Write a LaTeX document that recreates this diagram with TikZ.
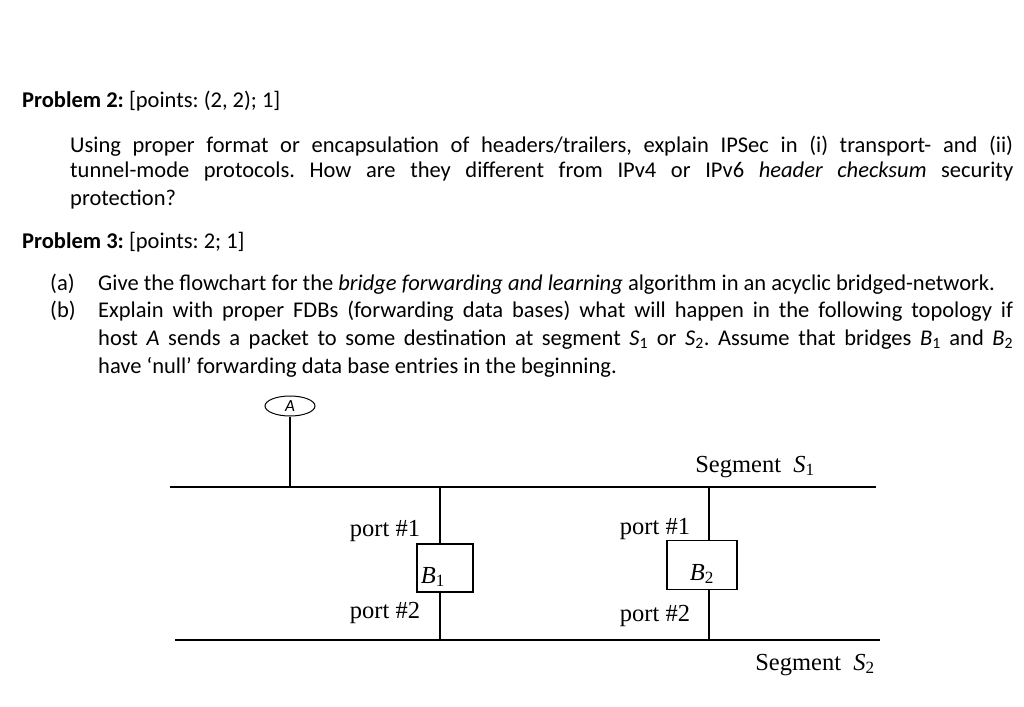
\documentclass[tikz,border=0pt]{standalone}
\usepackage{fontspec}
\setmainfont{Carlito}
\newfontfamily\tms{Liberation Serif}
\usetikzlibrary{shapes.geometric}
\frenchspacing
\newcommand{\jline}[2]{\hbox to #1pt{#2}}
\newcommand{\sub}[2]{\textit{#1}\textsubscript{#2}}
\begin{document}
\begin{tikzpicture}[x=1pt,y=-1pt,
  txt/.style={anchor=base west,inner sep=0,font=\fontsize{22.5}{28}\selectfont},
  lab/.style={anchor=base,inner sep=0,font=\tms\fontsize{24.5}{26}\selectfont},
  ln/.style={line width=1.2pt}]
\useasboundingbox (0,0) rectangle (1024,706);
\node[txt] (p2) at (22,108) {\textbf{Problem 2:} [points: (2, 2); 1]};
\node[txt] (t2a) at (70,152) {\jline{943}{Using proper format or encapsulation of headers/trailers, explain IPSec in (i) transport- and (ii)}};
\node[txt] (t2b) at (70,177) {\jline{943}{tunnel-mode protocols. How are they different from IPv4 or IPv6 \textit{header checksum} security}};
\node[txt] (t2c) at (70,205) {protection?};
\node[txt] (p3) at (22,248) {\textbf{Problem 3:} [points: 2; 1]};
\node[txt] (a) at (50,290) {(a)};
\node[txt] (at) at (98,290) {Give the flowchart for the \textit{bridge forwarding and learning} algorithm in an acyclic bridged-network.};
\node[txt] (b) at (50,317) {(b)};
\node[txt] (b1) at (98,317) {\jline{915}{Explain with proper FDBs (forwarding data bases) what will happen in the following topology if}};
\node[txt] (b2) at (98,345) {\jline{915}{host \textit{A} sends a packet to some destination at segment \sub{S}{1} or \sub{S}{2}. Assume that bridges \sub{B}{1} and \sub{B}{2}}};
\node[txt] (b3) at (98,373) {have `null' forwarding data base entries in the beginning.};
% diagram
\node[draw,ellipse,line width=1pt,minimum width=50,minimum height=20,inner sep=0] (A) at (290,406) {\fontsize{17}{17}\selectfont\itshape A};
\coordinate (s1l) at (170,487); \coordinate (s1r) at (876,487);
\coordinate (s2l) at (175,640); \coordinate (s2r) at (880,640);
\draw[ln] (s1l) -- (s1r);
\draw[ln] (s2l) -- (s2r);
\coordinate (a1) at (290,487);
\draw[ln] (A.south) -- (a1);
\node[draw,ln,minimum width=56,minimum height=48,inner sep=0] (B1) at (445,568) {};
\node[lab] (B1t) at (433,583) {\sub{B}{1}};
\node[draw,ln,minimum width=70,minimum height=49,inner sep=0] (B2) at (702,565) {};
\node[lab] (B2t) at (702,580) {\sub{B}{2}};
\coordinate (b1u) at (440,487); \coordinate (b1d) at (440,640);
\coordinate (b2u) at (709,487); \coordinate (b2d) at (709,640);
\draw[ln] (b1u) -- (b1u|-B1.north);
\draw[ln] (b1d|-B1.south) -- (b1d);
\draw[ln] (b2u) -- (b2u|-B2.north);
\draw[ln] (b2d|-B2.south) -- (b2d);
\node[lab] (p11) at (385,536) {port \#1};
\node[lab] (p12) at (385,618) {port \#2};
\node[lab] (p21) at (655,534) {port \#1};
\node[lab] (p22) at (655,621) {port \#2};
\node[lab] (S1) at (755,472) {Segment~~\sub{S}{1}};
\node[lab] (S2) at (815,670) {Segment~~\sub{S}{2}};
\end{tikzpicture}
\end{document}
